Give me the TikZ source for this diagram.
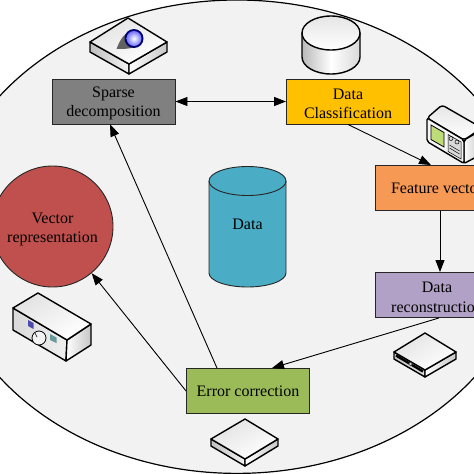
\documentclass[tikz,border=0pt]{standalone}
\usepackage{fontspec}
\setmainfont{Liberation Serif}
\usetikzlibrary{arrows.meta,shadings}
\definecolor{bgc}{HTML}{F2F2F2}
\newcommand{\lineup}{\rule{0pt}{15pt}}
\tikzset{
  box/.style={draw=black!85,line width=0.9pt,minimum width=123pt,minimum height=45pt,inner sep=0pt,align=center,
    text=black,font=\fontsize{16}{19.3}\selectfont},
  conn/.style={draw=black,line width=0.9pt,-{Triangle[length=12pt,width=9pt]}},
  edge3d/.style={draw=black,line width=1.4pt,line join=round},
  ftop/.style={edge3d,top color=gray!22,bottom color=white,shading angle=30},
  fleft/.style={edge3d,left color=gray!50,right color=gray!10},
  fright/.style={edge3d,left color=white,right color=gray!45},
}
\begin{document}
\begin{tikzpicture}[x=1pt,y=-1pt]
\useasboundingbox (0,0) rectangle (474,474);
\clip (0,0) rectangle (474,474);
\fill[white] (0,0) rectangle (474,474);
\draw[fill=bgc,line width=1.2pt] (237,236.7) ellipse [x radius=295,y radius=236.7];

% nodes
\node[box,fill=black!50] (sd) at (113.5,101.5) {\lineup Sparse\\decomposition};
\node[box,fill={rgb,255:red,255;green,192;blue,0}] (dc) at (348,101.5) {\lineup Data\\Classification};
\node[box,fill={rgb,255:red,245;green,153;blue,85}] (fv) at (437,188) {Feature vector};
\node[box,fill={rgb,255:red,178;green,161;blue,199}] (dr) at (437,295) {\lineup Data\\reconstruction};
\node[box,fill={rgb,255:red,155;green,187;blue,89}] (ec) at (248,391) {Error correction};
\node[circle,draw=black!85,line width=0.9pt,fill={rgb,255:red,192;green,80;blue,77},minimum size=121pt,inner sep=0pt,align=center,
  text=black,font=\fontsize{16}{19.3}\selectfont] (vr) at (52.5,226.5) {\rule{0pt}{17pt}Vector\\representation};

% central cylinder
\draw[draw=black!85,line width=0.9pt,fill={rgb,255:red,75;green,172;blue,198}]
  (209,181) arc[start angle=180,end angle=360,x radius=38.5,y radius=14.5]
  -- (286,273) arc[start angle=0,end angle=180,x radius=38.5,y radius=14]
  -- cycle;
\draw[draw=black!85,line width=0.9pt] (209,181) arc[start angle=180,end angle=0,x radius=38.5,y radius=14.5];
\node[inner sep=0pt,text=black,font=\fontsize{16}{19.3}\selectfont] (dt) at (247.5,224) {Data};

% connectors
\draw[conn,{Triangle[length=12pt,width=9pt]}-{Triangle[length=12pt,width=9pt]}] (sd.east) -- (dc.west);
\draw[conn] (dc.south) -- ([xshift=-6pt]fv.north);
\draw[conn] ([xshift=3pt]fv.south) -- ([xshift=3pt]dr.north);
\draw[conn] ([xshift=2pt]dr.south) -- ([xshift=24pt]ec.north);
\draw[conn] ([xshift=-31pt]ec.north) -- ([xshift=-3.5pt]sd.south);
\draw[conn] (ec.west) -- (vr.-50);

% icon: lens box
\path[fleft] (90,42) -- (129,64) -- (129,74) -- (90,52) -- cycle;
\path[fright] (129,64) -- (167,42) -- (167,52) -- (129,74) -- cycle;
\path[ftop] (128,18) -- (167,42) -- (129,64) -- (90,42) -- cycle;
\fill[black!62] (116.5,49) .. controls (120,40) and (124,32) .. (134,30.5) -- (141,44) .. controls (134,49) and (125,49) .. (116.5,49) -- cycle;
\fill[blue!45!black] (134,38.5) circle (9.5pt);
\shade[inner color=white,outer color=blue!55] (134,38.5) circle (7.5pt);

% icon: disk
\path[edge3d,left color=gray!55,right color=gray!30,middle color=white]
  (302,33) -- (302,57) arc[start angle=180,end angle=0,x radius=29,y radius=17] -- (360,33) -- cycle;
\path[edge3d,top color=gray!20,bottom color=white] (331,33) ellipse [x radius=29,y radius=17];

% icon: instrument (upper right)
\path[edge3d,rounded corners=2pt,left color=white,right color=gray!45] (464,140) -- (480,131) -- (480,155) -- (464,163.5) -- cycle;
\path[edge3d,rounded corners=3pt,top color=gray!20,bottom color=white] (442,105) -- (427,118) -- (464,140) -- (482,128) -- cycle;
\path[edge3d,rounded corners=2pt,fill=gray!8] (427,118) -- (464,140) -- (464,163.5) -- (427,141.5) -- cycle;
\draw[black,line width=0.8pt,fill={rgb,255:red,190;green,220;blue,120}] (431,125) -- (444,132.5) -- (444,147) -- (431,139.5) -- cycle;
\draw[black,line width=0.5pt,fill=gray!30] (448,134.5) -- (461,142) -- (461,159) -- (448,151.5) -- cycle;
\draw[black,line width=0.5pt] (451,138.5) circle (2pt) (457,142) circle (2pt);
\draw[black,line width=0.5pt] (449.5,145) -- (459.5,151) (449.5,148) -- (459.5,154);

% icon: knob box
\path[fleft,left color=gray!30,right color=gray!12] (13,308) -- (67,340) -- (66,361) -- (13,330) -- cycle;
\path[fright] (67,340) -- (91,324) -- (91,345) -- (66,361) -- cycle;
\path[ftop] (38,293) -- (91,324) -- (67,340) -- (13,308) -- cycle;
\fill[blue!55!black!70] (28,320) -- (33.5,323) -- (33.5,329) -- (28,326) -- cycle;
\fill[teal!50!gray!80] (50,334) -- (56.5,337.5) -- (56.5,343) -- (50,340) -- cycle;
\draw[black,line width=0.8pt,fill=gray!10] (39,338) circle (7pt);
\draw[black,line width=0.6pt] (35,333) -- (37,337);

% icon: drive
\path[fleft,left color=gray!45,right color=gray!25] (394,352) -- (425,370) -- (425,377) -- (394,359) -- cycle;
\path[fright] (425,370) -- (456,352) -- (456,359) -- (425,377) -- cycle;
\path[ftop] (425,333) -- (456,352) -- (425,370) -- (394,352) -- cycle;
\draw[black,line width=2.4pt] (396,355.5) -- (423,371.5);
\draw[black!70,line width=0.6pt,fill=gray!30] (410.5,364) circle (1.8pt);

% icon: flat box
\path[fleft] (211,439) -- (245,459) -- (245,466) -- (211,446) -- cycle;
\path[fright] (245,459) -- (278,439) -- (278,446) -- (245,466) -- cycle;
\path[ftop] (245,419) -- (278,439) -- (245,459) -- (211,439) -- cycle;
\end{tikzpicture}
\end{document}
